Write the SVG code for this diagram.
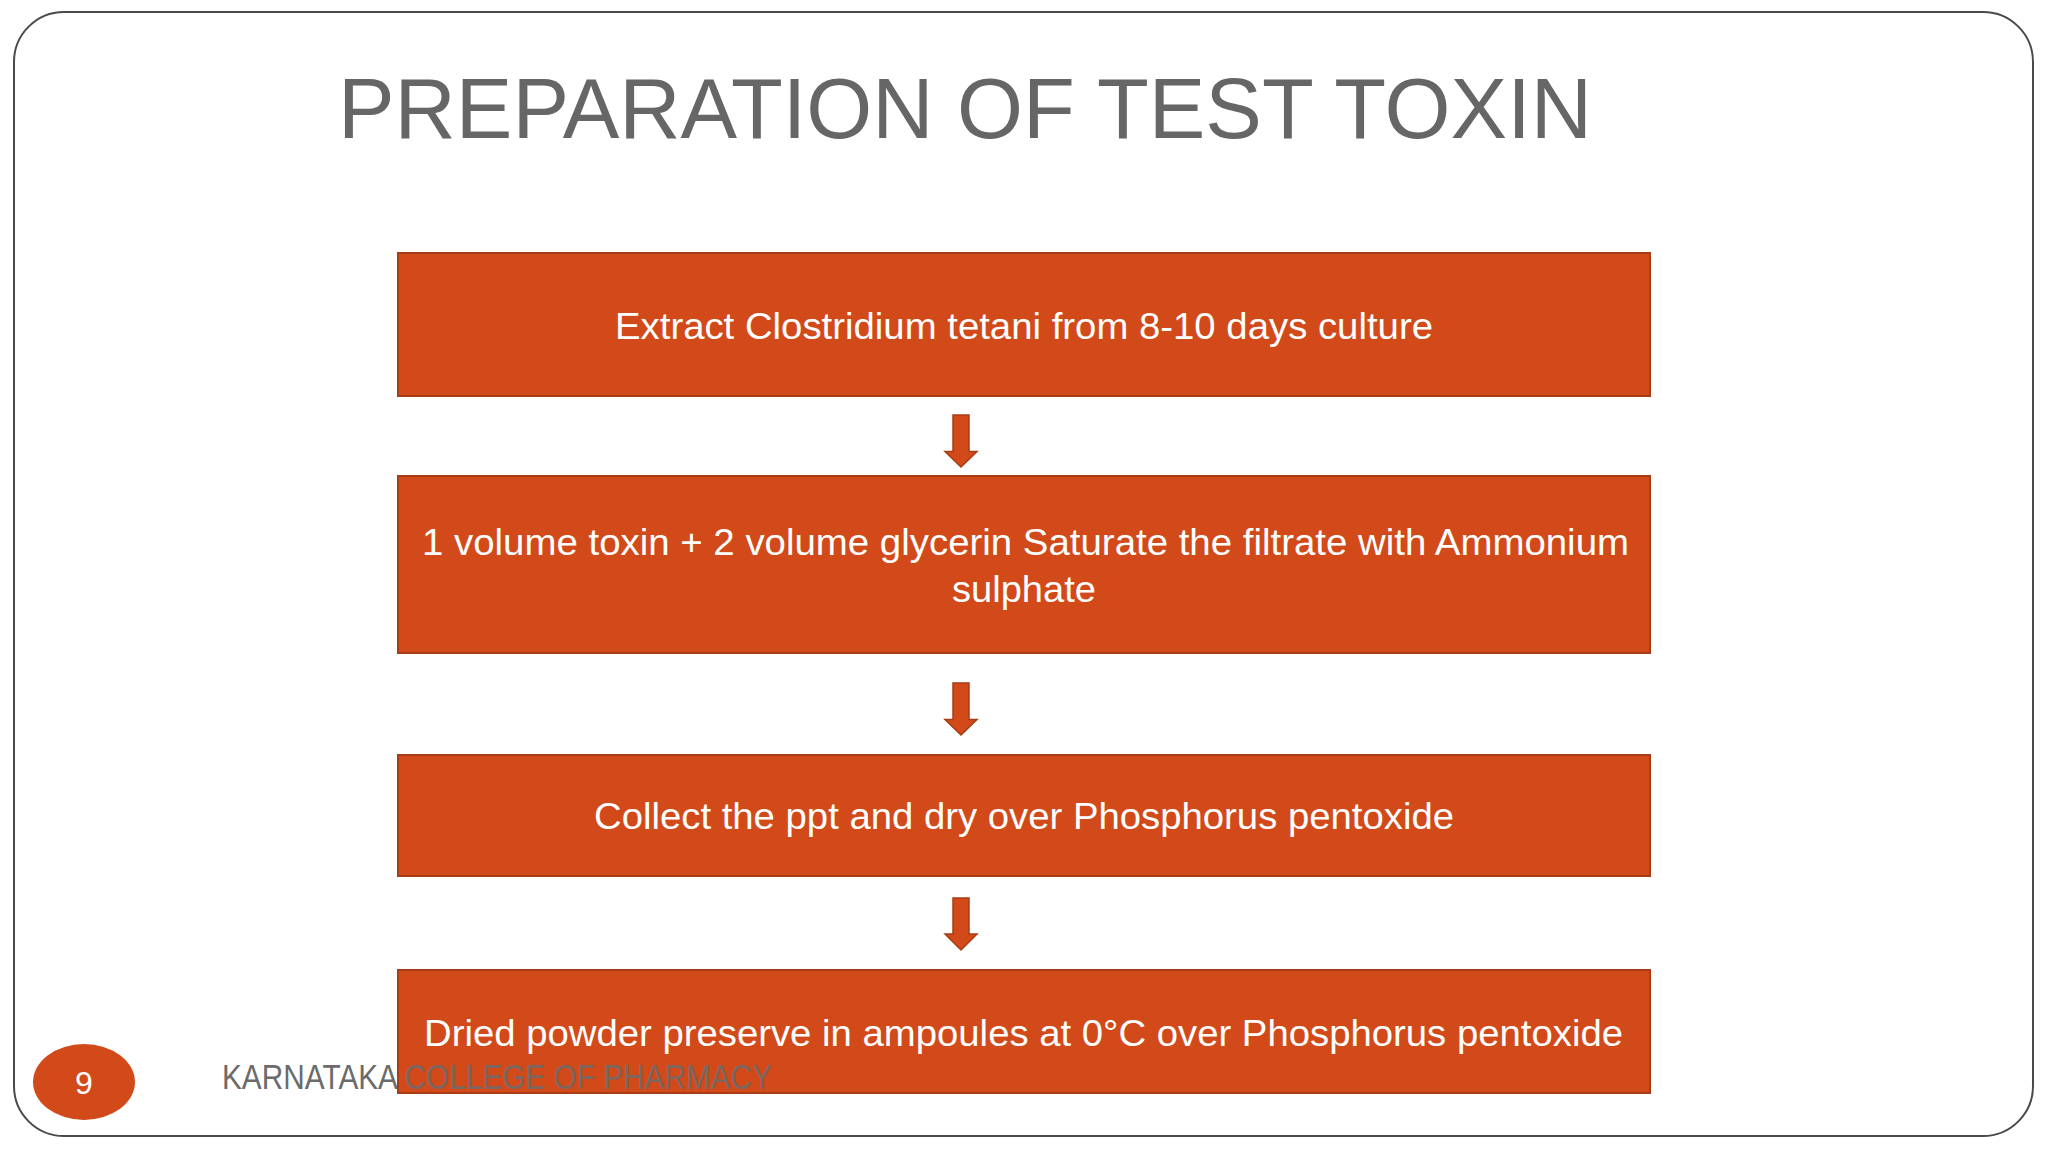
<svg xmlns="http://www.w3.org/2000/svg" width="2048" height="1152" viewBox="0 0 2048 1152">
  <style>
    .box { fill: #D24A19; stroke: #A83C14; stroke-width: 2; }
    .btxt { font-family: "Liberation Sans", Arial, sans-serif; font-size: 37px; fill: #FFFFFF; text-anchor: middle; }
    .arrow { fill: #D24A19; stroke: #A83C14; stroke-width: 1.5; }
  </style>
  <rect x="0" y="0" width="2048" height="1152" fill="#FFFFFF"/>
  <rect id="frame" x="14" y="12" width="2019" height="1124" rx="50" ry="50" fill="#FFFFFF" stroke="#4a4a4a" stroke-width="2"/>
  <text id="title" x="338" y="138" font-family="Liberation Sans, Arial, sans-serif" font-size="86" fill="#666666" textLength="1254" lengthAdjust="spacingAndGlyphs">PREPARATION OF TEST TOXIN</text>

  <g id="connectors">
    <path class="arrow" d="M953,415 L969,415 L969,451.5 L977,451.5 L961,467 L945,451.5 L953,451.5 Z"/>
    <path class="arrow" d="M953,683 L969,683 L969,719.5 L977,719.5 L961,735 L945,719.5 L953,719.5 Z"/>
    <path class="arrow" d="M953,898 L969,898 L969,934 L977,934 L961,950 L945,934 L953,934 Z"/>
  </g>

  <g id="node1">
    <rect class="box" x="398" y="253" width="1252" height="143"/>
    <text class="btxt" x="1024" y="339" textLength="818" lengthAdjust="spacingAndGlyphs">Extract Clostridium tetani from 8-10 days culture</text>
  </g>
  <g id="node2">
    <rect class="box" x="398" y="476" width="1252" height="177"/>
    <text class="btxt" x="1025.5" y="555" textLength="1207" lengthAdjust="spacingAndGlyphs">1 volume toxin + 2 volume glycerin Saturate the filtrate with Ammonium</text>
    <text class="btxt" x="1024" y="601.5" textLength="144" lengthAdjust="spacingAndGlyphs">sulphate</text>
  </g>
  <g id="node3">
    <rect class="box" x="398" y="755" width="1252" height="121"/>
    <text class="btxt" x="1024" y="829" textLength="860" lengthAdjust="spacingAndGlyphs">Collect the ppt and dry over Phosphorus pentoxide</text>
  </g>
  <g id="node4">
    <rect class="box" x="398" y="970" width="1252" height="123"/>
    <text class="btxt" x="1023.5" y="1046" textLength="1199" lengthAdjust="spacingAndGlyphs">Dried powder preserve in ampoules at 0°C over Phosphorus pentoxide</text>
  </g>

  <g id="page-number">
    <ellipse cx="84" cy="1082" rx="51" ry="38" fill="#D24A19"/>
    <text x="84" y="1094" font-family="Liberation Sans, Arial, sans-serif" font-size="32" fill="#FFFFFF" text-anchor="middle">9</text>
  </g>
  <g id="footer">
    <text x="222" y="1089" font-family="Liberation Sans, Arial, sans-serif" font-size="35" textLength="550" lengthAdjust="spacingAndGlyphs"><tspan fill="#6b6b6b">KARNATAKA </tspan><tspan fill="#7a6762">COLLEGE OF PHARMACY</tspan></text>
  </g>
</svg>
